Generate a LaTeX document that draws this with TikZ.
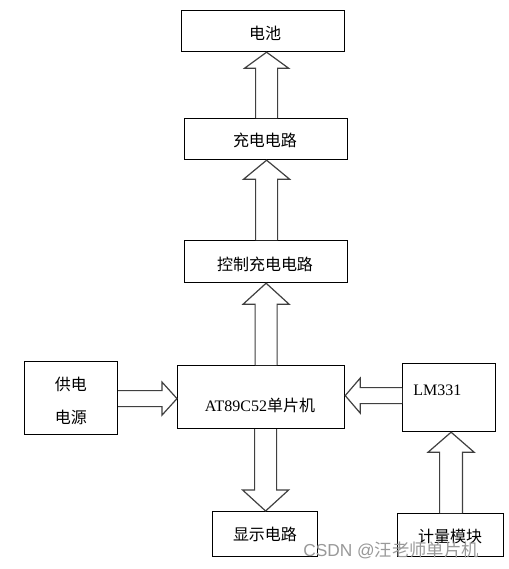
\documentclass[tikz,border=0pt]{standalone}
\usepackage{fontspec}
\setmainfont{Liberation Serif}
\newfontfamily\cjk{Noto Sans CJK SC}
\newfontfamily\wmfont{Liberation Sans}
\usetikzlibrary{calc}
\tikzset{
  box/.style={draw=black, line width=0.9pt, fill=white, inner sep=0pt, anchor=north west},
  lbl/.style={inner sep=0pt, font=\fontsize{12}{14}\selectfont\cjk},
  latin/.style={inner sep=0pt, font=\fontsize{12}{14}\selectfont},
  blk/.style={draw=black!75, line width=0.9pt, fill=white, line join=miter},
}
% vertical block arrow: #1 start, #2 tip, #3 shaft half width, #4 head half width, #5 head length (pt); sign #6 = +1 up, -1 down
\newcommand{\blkV}[6]{%
  \draw[blk] let \p1=(#1), \p2=(#2) in
    (\x1-#3pt,\y1) -- (\x1-#3pt,\y2-#6*#5pt) -- (\x1-#4pt,\y2-#6*#5pt) -- (\x1,\y2)
    -- (\x1+#4pt,\y2-#6*#5pt) -- (\x1+#3pt,\y2-#6*#5pt) -- (\x1+#3pt,\y1);}
% horizontal block arrow: #6 = +1 right, -1 left
\newcommand{\blkH}[6]{%
  \draw[blk] let \p1=(#1), \p2=(#2) in
    (\x1,\y1-#3pt) -- (\x2-#6*#5pt,\y1-#3pt) -- (\x2-#6*#5pt,\y1-#4pt) -- (\x2,\y1)
    -- (\x2-#6*#5pt,\y1+#4pt) -- (\x2-#6*#5pt,\y1+#3pt) -- (\x1,\y1+#3pt);}
\begin{document}
\begin{tikzpicture}[x=0.75pt, y=-0.75pt]
\useasboundingbox (0,0) rectangle (509,569);
\fill[white] (0,0) rectangle (509,569);

% boxes
\node[box, minimum width=122.25pt, minimum height=30.75pt] (bat) at (181,10) {};
\node[box, minimum width=122.25pt, minimum height=30.75pt] (chg) at (184,118) {};
\node[box, minimum width=122.25pt, minimum height=31.5pt] (ctrl) at (184,240) {};
\node[box, minimum width=125.25pt, minimum height=47.25pt] (mcu) at (177,365) {};
\node[box, minimum width=69.75pt, minimum height=54.75pt] (pwr) at (24,361) {};
\node[box, minimum width=69.75pt, minimum height=51pt] (lm) at (402,363) {};
\node[box, minimum width=78.75pt, minimum height=33.75pt] (disp) at (212,511) {};
\node[box, minimum width=79.5pt, minimum height=32.25pt] (meas) at (397,513) {};

% texts
\node[lbl] (tbat) at (265,33) {电池};
\node[lbl] (tchg) at (265,140) {充电电路};
\node[lbl] (tctrl) at (265,264) {控制充电电路};
\node[lbl] (tpwr1) at (71,384) {供电};
\node[lbl] (tpwr2) at (71,417) {电源};
\node[latin, anchor=base] (tmcu) at (260,411) {AT89C52{\cjk 单片机}};
\node[latin, anchor=base west] (tlm) at (413,395) {LM331};
\node[lbl] (tdisp) at (265,534) {显示电路};
\node[lbl] (tmeas) at (450,536) {计量模块};

% block arrows (shaft half, head half, head length in pt)
\coordinate (a1s) at ($(chg.north)+(0.5,0)$);
\coordinate (a1t) at ($(bat.south)+(3.5,0)$);
\blkV{a1s}{a1t}{8.25}{16.5}{12}{1}
\coordinate (a2s) at ($(ctrl.north)+(0.5,0)$);
\blkV{a2s}{chg.south}{8.25}{17.25}{14.25}{1}
\coordinate (a3s) at ($(mcu.north)+(5,0)$);
\blkV{a3s}{ctrl.south}{8.25}{17.25}{15.75}{1}
\coordinate (a4s) at ($(mcu.south)+(4.5,0)$);
\coordinate (a4t) at ($(disp.north)+(0.5,0)$);
\blkV{a4s}{a4t}{8.25}{17.25}{15.75}{-1}
\coordinate (a5s) at ($(meas.north)+(0.5,0)$);
\blkV{a5s}{lm.south}{8.6}{17.25}{15}{1}
\coordinate (a6s) at ($(pwr.east)+(0,0.5)$);
\blkH{a6s}{mcu.west}{6}{12.4}{11.25}{1}
\coordinate (a7s) at ($(lm.west)+(0,-2)$);
\blkH{a7s}{mcu.east}{6}{13.1}{11.25}{-1}

% watermark
\node[inner sep=0pt, anchor=west, text=black!40, font=\fontsize{13}{15}\selectfont\wmfont] (wm) at (303,550) {CSDN @{\cjk 汪老师单片机}};
\end{tikzpicture}
\end{document}
